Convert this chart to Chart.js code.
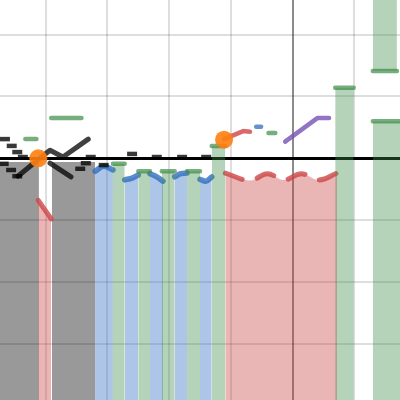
<!DOCTYPE html>
<html>
<head>
<meta charset="utf-8">
<script src="https://cdn.jsdelivr.net/npm/chart.js@4.4.1/dist/chart.umd.min.js"></script>
<style>
  html, body { margin: 0; padding: 0; background: #fff; }
  canvas { display: block; }
</style>
</head>
<body>
<canvas id="chart" width="400" height="400"></canvas>
<script>
// axis extents (grid every 1 unit)
const xRange = [-4.74, 1.74];
const yRange = [-3.91, 2.56];

// gray blocks on the left
const grayX = [-4.74, -4.11, null, -3.90, -3.20];
const grayY = [-0.06, -0.06, null, -0.06, -0.06];

// small red strip and the red wave
const pinkLeftX = [-4.12, -3.91];
const pinkLeftY = [-0.68, -0.98];
const redWaveX = [-1.09, -0.69, -0.41, -0.14, 0.14, 0.43, 0.72];
const redWaveY = [-0.24, -0.36, -0.25, -0.35, -0.25, -0.35, -0.24];

// blue arcs (null = gap)
const blueX = [-3.20, -3.06, -2.91, null, -2.72, -2.60, -2.50, null, -2.31, -2.20, -2.10, null, -1.91, -1.81, -1.71, null, -1.50, -1.40, -1.31];
const blueY = [-0.21, -0.13, -0.19, null, -0.35, -0.32, -0.27, null, -0.25, -0.30, -0.37, null, -0.30, -0.25, -0.24, null, -0.34, -0.37, -0.30];

// green strips filled to the bottom
const greenX = [-2.91, -2.72, null, -2.50, -2.31, null, -2.12, -1.91, null, -1.71, -1.50, null, -1.31, -1.09, null, 0.69, 0.99, null, 1.30, 1.76];
const greenY = [-0.09, -0.09, null, -0.21, -0.21, null, -0.21, -0.21, null, -0.21, -0.21, null, 0.20, 0.20, null, 1.14, 1.14, null, 0.60, 0.60];
// green strip filled to the top
const greenTopX = [1.30, 1.69];
const greenTopY = [1.41, 1.41];
// loose green dashes
const greenDashX = [-4.33, -4.15, null, -3.91, -3.42, null, -0.39, -0.28];
const greenDashY = [0.31, 0.31, null, 0.65, 0.65, null, 0.41, 0.41];

// upper trail
const redUpX = [-1.11, -0.80, -0.69];
const redUpY = [0.31, 0.44, 0.43];
const blueDashX = [-0.59, -0.51];
const blueDashY = [0.51, 0.51];
const purpleX = [-0.12, 0.40, 0.59];
const purpleY = [0.27, 0.65, 0.65];

// black lines and dash markers
const blackX = [-4.45, -4.12, -3.93, -3.72, -3.31, null, -3.93, -3.59];
const blackY = [-0.29, -0.02, 0.13, 0.02, 0.31, null, -0.08, -0.30];
const markX = [-4.66, -4.55, -4.46, -4.37, -4.68, -4.56, -4.46, -3.44, -3.35, -3.27, -3.06, -2.60, -2.20, -1.79, -1.40];
const markY = [0.31, 0.20, 0.10, 0.02, -0.09, -0.19, -0.29, -0.17, -0.08, 0.02, -0.11, 0.07, 0.02, 0.02, 0.02];

// orange dots
const orangeX = [-4.12, -1.11];
const orangeY = [0.00, 0.30];

function pts(xs, ys) {
  return xs.map((x, i) => ({ x: x === null ? xs[i - 1] : x, y: ys[i] }));
}

function lineSet(xs, ys, color, width, extra) {
  return Object.assign({
    data: pts(xs, ys),
    borderColor: color,
    borderWidth: width,
    borderCapStyle: 'round',
    borderJoinStyle: 'round',
    pointRadius: 0,
    fill: false,
    spanGaps: false,
    tension: 0
  }, extra);
}

const ctx = document.getElementById('chart').getContext('2d');
new Chart(ctx, {
  type: 'line',
  data: {
    datasets: [
      { data: pts(orangeX, orangeY), showLine: false, pointRadius: 9, pointHoverRadius: 9,
        pointBackgroundColor: 'rgba(255,127,14,0.9)', pointBorderWidth: 0, order: 0 },
      { data: pts(markX, markY), showLine: false, pointStyle: 'line', pointRadius: 5, pointHoverRadius: 5,
        pointBorderColor: 'rgba(0,0,0,0.78)', pointBorderWidth: 4.5, order: 1 },
      lineSet(blackX, blackY, 'rgba(0,0,0,0.75)', 5, { order: 2 }),
      lineSet(purpleX, purpleY, 'rgba(120,80,180,0.8)', 4.5, { order: 3 }),
      lineSet(redUpX, redUpY, 'rgba(205,70,70,0.8)', 4.5, { order: 3 }),
      lineSet(blueDashX, blueDashY, 'rgba(50,110,190,0.75)', 4.5, { order: 3 }),
      lineSet(greenDashX, greenDashY, 'rgba(60,140,70,0.7)', 4.5, { order: 3 }),
      lineSet(greenX, greenY, 'rgba(60,140,70,0.7)', 4.5,
        { fill: 'start', backgroundColor: 'rgba(60,140,70,0.38)', order: 4 }),
      lineSet(greenTopX, greenTopY, 'rgba(60,140,70,0.7)', 4.5,
        { fill: 'end', backgroundColor: 'rgba(60,140,70,0.38)', order: 4 }),
      lineSet(blueX, blueY, 'rgba(50,110,190,0.8)', 5.5,
        { fill: 'start', backgroundColor: 'rgba(60,120,200,0.42)', tension: 0.4, order: 5 }),
      lineSet(redWaveX, redWaveY, 'rgba(205,70,70,0.8)', 5,
        { fill: 'start', backgroundColor: 'rgba(200,60,60,0.38)', tension: 0.4, borderDash: [18, 15.5], order: 6 }),
      lineSet(pinkLeftX, pinkLeftY, 'rgba(205,70,70,0.8)', 5,
        { fill: 'start', backgroundColor: 'rgba(200,60,60,0.38)', order: 6 }),
      lineSet(grayX, grayY, 'transparent', 0,
        { fill: 'start', backgroundColor: 'rgba(0,0,0,0.4)', order: 7 })
    ]
  },
  options: {
    responsive: false,
    animation: false,
    layout: { padding: 0, autoPadding: false },
    plugins: { legend: { display: false }, tooltip: { enabled: false } },
    scales: {
      x: {
        type: 'linear', min: xRange[0], max: xRange[1],
        ticks: { display: false, stepSize: 1, includeBounds: false },
        border: { display: false },
        grid: {
          drawTicks: false,
          color: c => (c.tick && c.tick.value === 0) ? 'rgba(0,0,0,0.45)' : 'rgba(0,0,0,0.13)',
          lineWidth: 2
        }
      },
      y: {
        type: 'linear', min: yRange[0], max: yRange[1],
        ticks: { display: false, stepSize: 1, includeBounds: false },
        border: { display: false },
        grid: {
          drawTicks: false,
          color: c => (c.tick && c.tick.value === 0) ? '#000' : 'rgba(0,0,0,0.13)',
          lineWidth: c => (c.tick && c.tick.value === 0) ? 3 : 2
        }
      }
    }
  }
});
</script>
</body>
</html>
